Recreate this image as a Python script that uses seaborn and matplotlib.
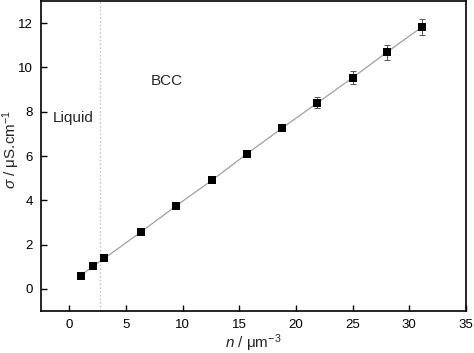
import matplotlib
matplotlib.use("Agg")
import matplotlib.pyplot as plt
import seaborn as sns
import pandas as pd

n_vals = [1.0, 2.1, 3.1, 6.3, 9.4, 12.6, 15.7, 18.8, 21.9, 25.0, 28.0, 31.1]
sigma_vals = [0.60, 1.02, 1.38, 2.56, 3.74, 4.91, 6.11, 7.27, 8.40, 9.54, 10.68, 11.82]
sigma_err = [0.05, 0.05, 0.06, 0.08, 0.08, 0.1, 0.12, 0.15, 0.25, 0.3, 0.32, 0.35]
x_ticks = [0, 5, 10, 15, 20, 25, 30, 35]
y_ticks = [0, 2, 4, 6, 8, 10, 12]

df = pd.DataFrame({"n": n_vals, "sigma": sigma_vals, "err": sigma_err})

sns.set_style("ticks")
plt.rcParams["font.family"] = ["Liberation Sans", "DejaVu Sans"]
plt.rcParams["mathtext.fontset"] = "custom"
plt.rcParams["mathtext.rm"] = "Liberation Sans"
plt.rcParams["mathtext.it"] = "Liberation Sans:italic"

fig = plt.figure(figsize=(4.74, 3.53), dpi=100)
ax = fig.add_axes([0.0865, 0.119, 0.8965, 0.878])

ax.axvline(2.75, color="#c8c8c8", linestyle=(0, (1.5, 1.5)), linewidth=0.9, zorder=1)
sns.lineplot(data=df, x="n", y="sigma", color="#a0a0a0", linewidth=0.9, ax=ax, zorder=2)
ax.errorbar(df["n"], df["sigma"], yerr=df["err"], fmt="none", ecolor="#555555",
            elinewidth=0.7, capsize=2, capthick=0.7, zorder=3)
sns.scatterplot(data=df, x="n", y="sigma", marker="s", s=40, color="black",
                edgecolor="black", linewidth=0, ax=ax, zorder=4)

ax.set_xlim(-2.5, 35)
ax.set_ylim(-1, 13)
ax.set_xticks(x_ticks)
ax.set_yticks(y_ticks)
ax.tick_params(direction="in", length=4, width=1, labelsize=9.5, colors="black", pad=6)
for s in ax.spines.values():
    s.set_linewidth(1.2)
    s.set_color("black")

ax.set_xlabel(r"$\it{n}$ / μm$^{-3}$", fontsize=11, labelpad=1)
ax.set_ylabel(r"$\it{\sigma}$ / μS.cm$^{-1}$", fontsize=11)
ax.yaxis.set_label_coords(-0.045, 0.52)

ax.text(0.3, 7.7, "Liquid", fontsize=11, ha="center", va="center")
ax.text(8.6, 9.4, "BCC", fontsize=11, ha="center", va="center")

fig.savefig("out.png", dpi=100)
